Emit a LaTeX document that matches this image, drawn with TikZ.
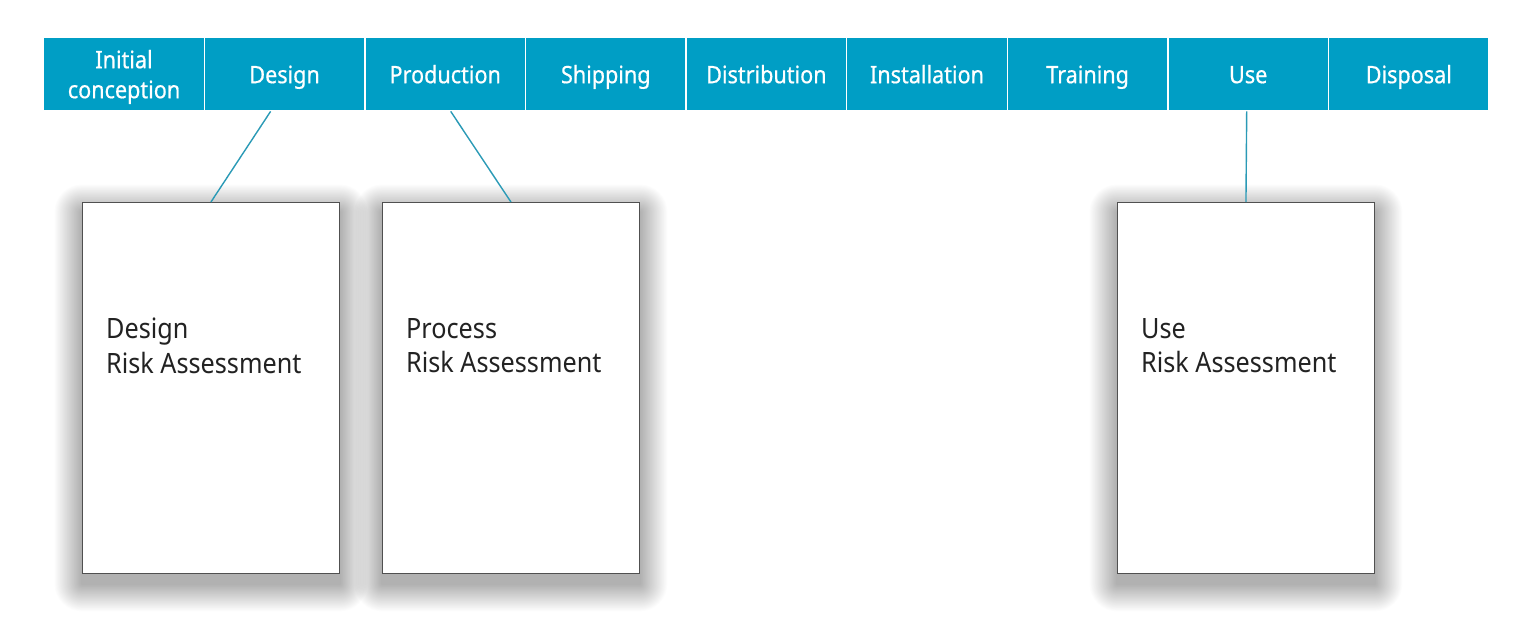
\documentclass[tikz,border=0pt]{standalone}
\usepackage{fontspec}
\setmainfont{Noto Sans}[FakeStretch=0.9]
\newfontfamily\barfont{Noto Sans}[FakeStretch=0.9,FakeBold=0.6]
\usetikzlibrary{calc}
\pgfdeclarelayer{background}
\pgfsetlayers{background,main}
\definecolor{barblue}{HTML}{009EC5}
\definecolor{linkblue}{HTML}{2A9AB6}
\definecolor{txt}{HTML}{222222}
\definecolor{boxline}{HTML}{505050}
\tikzset{
  cell/.style={rectangle, fill=barblue, draw=white, line width=1.4pt, minimum width=160.6pt, minimum height=73pt, inner sep=0pt, text height=18pt, text depth=0pt, anchor=north west, text=white, align=center, font=\barfont\fontsize{24}{30}\selectfont},
  riskbox/.style={rectangle, fill=white, draw=boxline, line width=0.9pt, minimum width=257pt, minimum height=371pt, inner sep=0pt, anchor=north west},
  risktext/.style={anchor=north west, inner sep=0pt, align=left, text=txt, font=\fontsize{28}{34.7}\selectfont},
  link/.style={draw=linkblue, line width=1.4pt},
  shadowlayer/.style={fill=black, fill opacity=0.008}
}
\begin{document}
\begin{tikzpicture}[x=1pt,y=-1pt]
\useasboundingbox (0,0) rectangle (1536,626);
% bar
\node[cell, text height=48pt] (c1) at (43,37) {Initial\\conception};
\node[cell] (c2) at (203.6,37) {Design};
\node[cell] (c3) at (364.2,37) {Production};
\node[cell] (c4) at (524.8,37) {Shipping};
\node[cell] (c5) at (685.4,37) {Distribution};
\node[cell] (c6) at (846,37) {Installation};
\node[cell] (c7) at (1006.6,37) {Training};
\node[cell] (c8) at (1167.2,37) {Use};
\node[cell] (c9) at (1327.8,37) {Disposal};
% boxes
\node[riskbox] (b1) at (82,202) {};
\node[riskbox] (b2) at (382,202) {};
\node[riskbox] (b3) at (1117,202) {};
\node[risktext] (t1) at (106,318) {Design\\Risk Assessment};
\node[risktext] (t2) at (406,318) {Process\\Risk Assessment};
\node[risktext] (t3) at (1141,318) {Use\\Risk Assessment};
% connectors
\draw[link] ($(c2.south)+(-14,0)$) -- (b1.north);
\draw[link] ($(c3.south)+(5.5,0)$) -- (b2.north);
\draw[link] ($(c8.south)+(-1.5,0)$) -- (b3.north);
% soft shadows
\begin{pgfonlayer}{background}
\fill[white] (0,0) rectangle (1536,626);
\foreach \b in {b1,b2,b3}{
  \foreach \k in {1,1.7,...,28}{
    \fill[shadowlayer, rounded corners=\k pt]
      ($(\b.north west)+(-\k,-\k+10)$) rectangle ($(\b.south east)+(\k,\k+10)$);
  }
}
\end{pgfonlayer}
\end{tikzpicture}
\end{document}
